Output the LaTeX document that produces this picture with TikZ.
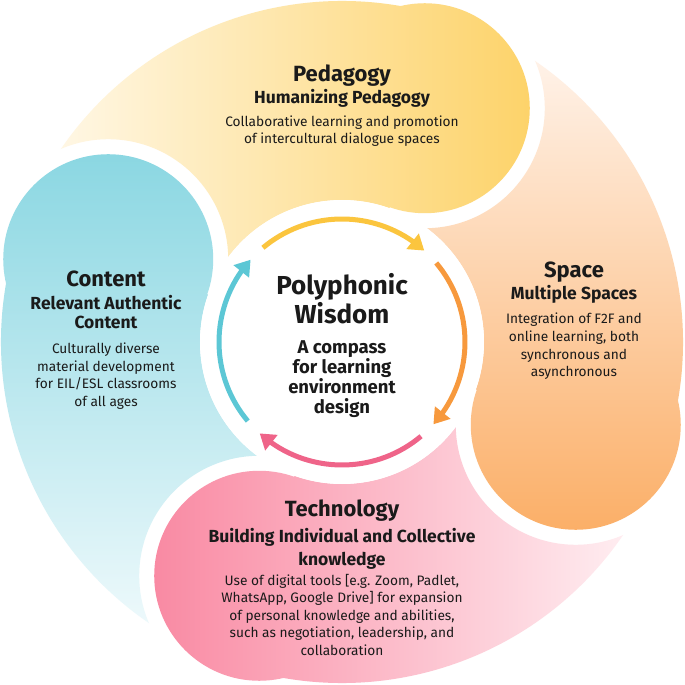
\documentclass[tikz,border=0pt]{standalone}
\usepackage{fontspec}
\setmainfont{Fira Sans}
\usetikzlibrary{arrows.meta,bending}
\definecolor{pedS}{HTML}{FDD36A}
\definecolor{pedP}{HTML}{FFF8E8}
\definecolor{spaS}{HTML}{FBAF68}
\definecolor{spaP}{HTML}{FFF4EC}
\definecolor{tecS}{HTML}{F98AA3}
\definecolor{tecP}{HTML}{FFF0F3}
\definecolor{conS}{HTML}{8BD7E2}
\definecolor{conP}{HTML}{F0FAFC}
\definecolor{arY}{HTML}{FBC53E}
\definecolor{arO}{HTML}{F7993D}
\definecolor{arP}{HTML}{EF6489}
\definecolor{arC}{HTML}{5CC7D5}
\definecolor{ink}{HTML}{1A1A1A}
\newcommand\petalshape[2]{%
\begin{scope}[even odd rule]
\clip (-400,-400) rectangle (400,400) ({#1+90}:248) circle[radius=120];
\shade[nonzero rule, #2] ({#1}:341) arc[start angle={#1}, end angle={#1+80}, radius=341] -- ({#1+80}:142) arc[start angle={#1+80}, end angle={#1}, radius=142] -- cycle
 ({#1}:248) ++(105,0) arc[start angle=0, end angle=360, radius=105] -- cycle;
\end{scope}}
\tikzset{
 ttl/.style={font=\fontsize{22}{27}\selectfont\bfseries, text=ink, anchor=base, inner sep=0pt},
 sub/.style={font=\fontsize{17.5}{20}\selectfont\bfseries, text=ink, align=center, anchor=base, inner sep=0pt},
 body/.style={font=\fontsize{13.7}{17.5}\selectfont, text=ink, align=center, anchor=base, inner sep=0pt},
 arr/.style={line width=5pt, -{Triangle[width=19pt,length=15pt]}},
}
\begin{document}
\begin{tikzpicture}[x=1pt,y=1pt]
\useasboundingbox (-342,-343) rectangle (343,342);
\fill[white] (-342,-343) rectangle (343,342);
% petals
\petalshape{70.5}{left color=pedP, right color=pedS}
\petalshape{-19.5}{top color=spaP, bottom color=spaS}
\petalshape{-109.5}{left color=tecS, right color=tecP}
\petalshape{160.5}{top color=conS, bottom color=conP}
\fill[white] (0,0) circle[radius=142];
% arrows
\draw[arr, arY] (130:123) arc[start angle=130, end angle=48, radius=123];
\draw[arr, arO] (40:123) arc[start angle=40, end angle=-42, radius=123];
\draw[arr, arP] (-50:123) arc[start angle=-50, end angle=-132, radius=123];
\draw[arr, arC] (-140:123) arc[start angle=-140, end angle=-222, radius=123];
% center (base anchor = baseline of last line)
\node[font=\fontsize{26}{28.3}\selectfont\bfseries, text=ink, align=center, anchor=base, inner sep=0pt] (ctitle) at (0,18.7) {Polyphonic\\Wisdom};
\node[font=\fontsize{18.5}{19.8}\selectfont\bfseries, text=ink, align=center, anchor=base, inner sep=0pt] (csub) at (0,-71.3) {A compass\\for learning\\environment\\design};
% pedagogy
\node[ttl] (pt) at (0,260.3) {Pedagogy};
\node[sub] (ps) at (0,238.7) {Humanizing Pedagogy};
\node[body] (pb) at (0,198) {Collaborative learning and promotion\\of intercultural dialogue spaces};
% space
\node[ttl] (st) at (232,64) {Space};
\node[sub] (ss) at (232,42) {Multiple Spaces};
\node[body] (sb) at (232,-34.5) {Integration of F2F and\\online learning, both\\synchronous and\\asynchronous};
% content
\node[ttl] (cot) at (-236,55.4) {Content};
\node[sub, font=\fontsize{17.5}{19.4}\selectfont\bfseries] (cos) at (-236,13.1) {Relevant Authentic\\Content};
\node[body] (cob) at (-236,-64.3) {Culturally diverse\\material development\\for EIL/ESL classrooms\\of all ages};
% technology
\node[ttl] (tt) at (0,-174.7) {Technology};
\node[sub, font=\fontsize{17.5}{22.3}\selectfont\bfseries] (ts) at (0,-223) {Building Individual and Collective\\knowledge};
\node[body] (tb) at (0,-313) {Use of digital tools [e.g. Zoom, Padlet,\\WhatsApp, Google Drive] for expansion\\of personal knowledge and abilities,\\such as negotiation, leadership, and\\collaboration};
\end{tikzpicture}
\end{document}
